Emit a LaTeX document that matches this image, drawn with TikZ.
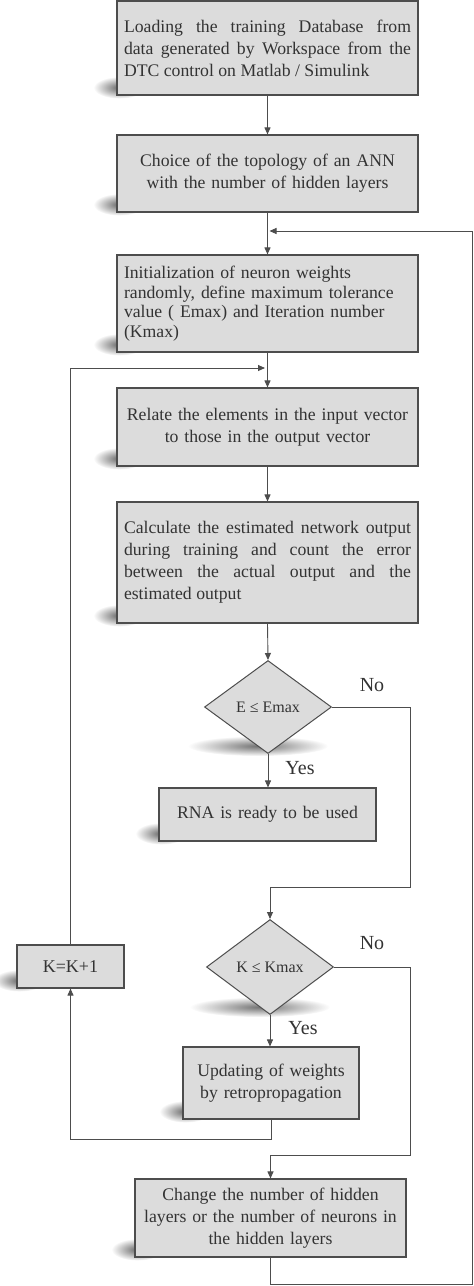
\documentclass[tikz,border=0pt]{standalone}
\usepackage{fontspec}
\setmainfont{Liberation Serif}
\usetikzlibrary{arrows.meta,shapes.geometric,fadings,backgrounds,calc}
\definecolor{boxfill}{HTML}{DCDCDC}
\definecolor{edge}{HTML}{4D4D4D}
\definecolor{txt}{HTML}{333333}
\tikzfading[name=softfade, inner color=transparent!0, outer color=transparent!100]
\newcommand{\bshadow}[1]{\fill[black!60, path fading=softfade] ($(#1.south west)+(3,-8)$) ellipse [x radius=26, y radius=11];}
\newcommand{\dshadow}[1]{\fill[black!55, path fading=softfade] ($(#1.south)+(-10,-8)$) ellipse [x radius=70, y radius=10];}
\begin{document}
\begin{tikzpicture}[x=1pt,y=-1pt,
 box/.style={draw=edge, line width=1.1pt, fill=boxfill, text=txt, inner xsep=7pt, inner ysep=2pt, font=\fontsize{17.7}{22}\selectfont},
 dec/.style={diamond, draw=edge, line width=1pt, fill=boxfill, text=txt, inner sep=0pt, font=\fontsize{16}{18}\selectfont},
 conn/.style={draw=edge, line width=0.9pt},
 arr/.style={conn, -{Triangle[length=7pt,width=6pt]}},
 lbl/.style={text=txt, font=\fontsize{20}{22}\selectfont},
]
\useasboundingbox (0,0) rectangle (474,1286);

\node[box, text width=287pt, minimum height=94pt, align=justify] (b1) at (267.5,48)
 {Loading the training Database from\linebreak data generated by Workspace from the\linebreak DTC control on Matlab / Simulink};
\node[box, text width=287pt, minimum height=77pt, align=center] (b2) at (267.5,173.5)
 {Choice of the topology of an ANN\\ with the number of hidden layers};
\node[box, text width=287pt, minimum height=97pt, align=left, font=\fontsize{17.7}{19.5}\selectfont] (b3) at (267.5,303.5)
 {Initialization of neuron weights\\ randomly, define maximum tolerance\\ value ( Emax) and Iteration number\\ (Kmax)};
\node[box, text width=287pt, minimum height=78pt, align=center] (b4) at (267.5,427)
 {Relate the elements in the input vector\\ to those in the output vector};
\node[box, text width=287pt, minimum height=121pt, align=justify] (b5) at (267.5,562.5)
 {Calculate the estimated network output\linebreak during training and count the error\linebreak between the actual output and the\linebreak estimated output};
\node[dec, minimum width=127pt, minimum height=93pt] (d1) at (268,707) {E ≤ Emax};
\node[box, text width=203pt, minimum height=53pt, align=center] (rna) at (267.5,814.5) {RNA is ready to be used};
\node[dec, minimum width=127pt, minimum height=95pt] (d2) at (270,967) {K ≤ Kmax};
\node[box, text width=93pt, minimum height=43pt, align=center, font=\fontsize{18}{20}\selectfont] (kb) at (70.5,966.5) {K=K+1};
\node[box, text width=162pt, minimum height=72pt, align=center] (upd) at (271,1083)
 {Updating of weights\\ by retropropagation};
\node[box, text width=257pt, minimum height=78pt, align=center] (chg) at (270.5,1218)
 {Change the number of hidden\\ layers or the number of neurons in\\ the hidden layers};

\begin{scope}[on background layer]
\bshadow{b1}\bshadow{b2}\bshadow{b3}\bshadow{b4}\bshadow{b5}
\bshadow{rna}\bshadow{kb}\bshadow{upd}\bshadow{chg}
\dshadow{d1}\dshadow{d2}
\end{scope}

\coordinate (j1) at (268,231);
\coordinate (j2) at (266,368);
\coordinate (rx) at (472,231);
\coordinate (n1) at (410,887);
\coordinate (n2) at (410,1155);
\coordinate (lb) at (70.5,1139);
\coordinate (bt) at (472,1284);

\draw[arr] (b1) -- (b2);
\draw[arr] (b2) -- (b3);
\draw[arr] (b3) -- (b4);
\draw[arr] (b4) -- (b5);
\draw[arr] (b5.south) -- (d1.north);
\draw[arr] (d1.south) -- (d1.south |- rna.north);
\draw[arr] (d1.east) -| (n1) -| (d2.north);
\draw[arr] (d2.south) -- (d2.south |- upd.north);
\draw[arr] (d2.east) -| (n2) -| (chg.north);
\draw[arr] (upd.south) |- (lb) -- (kb.south);
\draw[arr, shorten >=1pt] (kb.north) |- (j2);
\draw[arr, shorten >=1.5pt] (chg.south) |- (bt) -- (rx) -- (j1);

\node[lbl] (no1) at (372,685) {No};
\node[lbl] (yes1) at (300,768) {Yes};
\node[lbl] (no2) at (372,943) {No};
\node[lbl] (yes2) at (303,1028) {Yes};
\end{tikzpicture}
\end{document}
